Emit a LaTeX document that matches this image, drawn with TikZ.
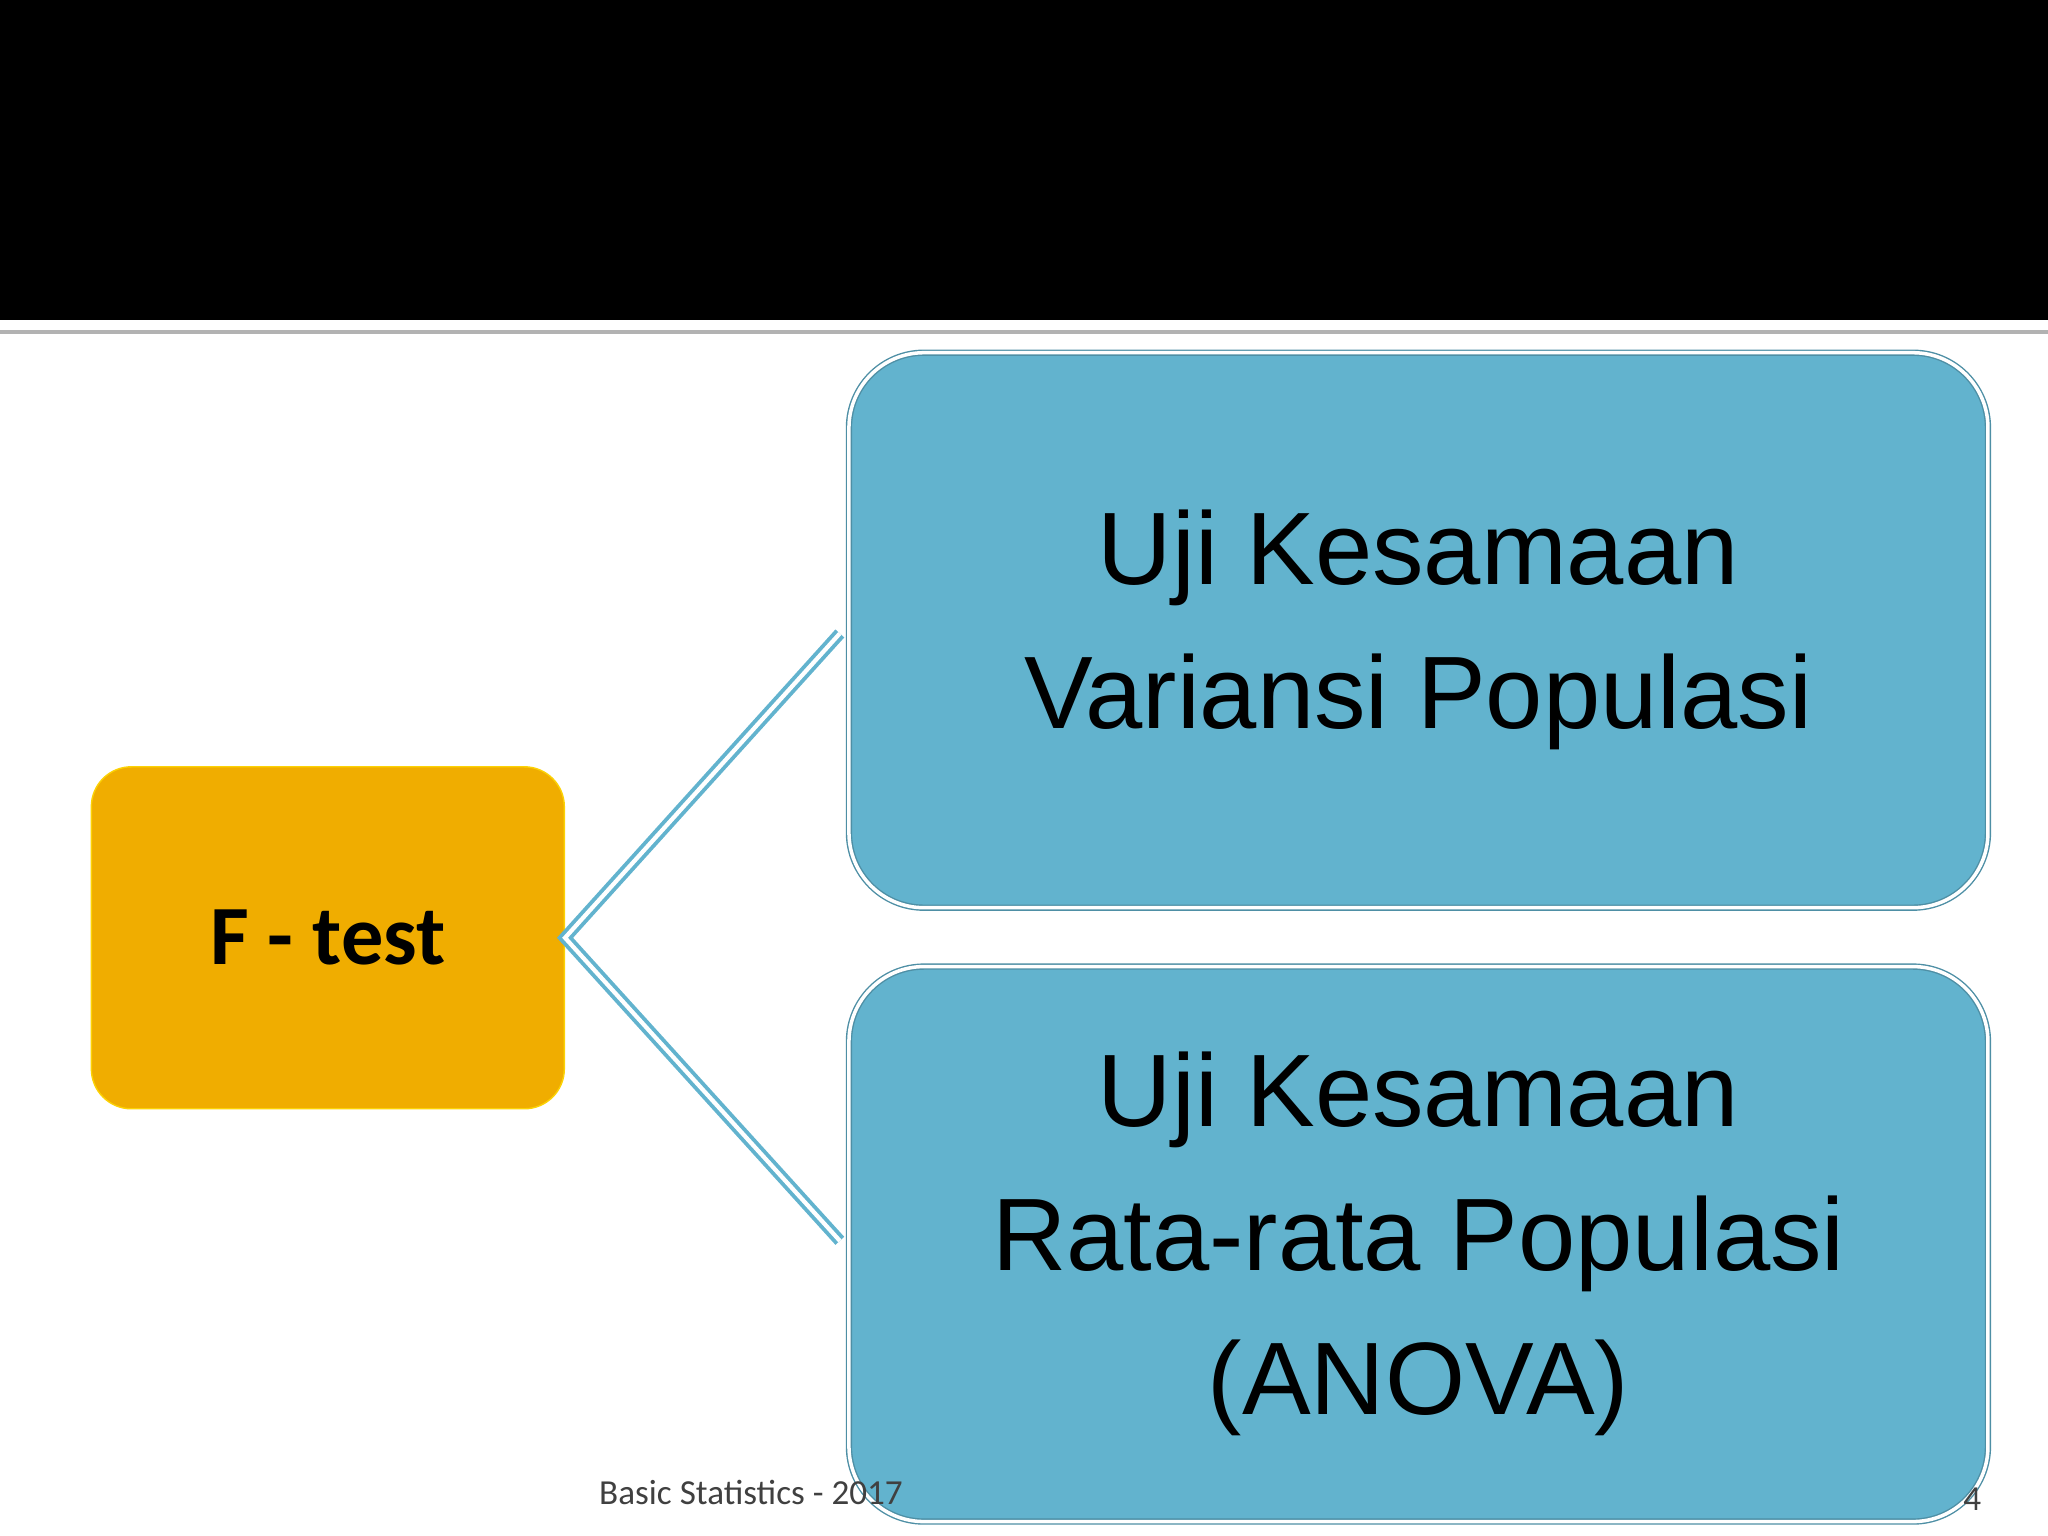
\documentclass[tikz,border=0pt]{standalone}
\usepackage{fontspec}
\setmainfont{Liberation Sans}
\newfontfamily\calfont{Carlito}
\definecolor{boxblue}{HTML}{62B3CE}
\definecolor{boxorange}{HTML}{F0AD00}
\tikzset{
  bigbox/.style={draw=boxblue!80!black, double=white, double distance=1pt, fill=boxblue, rounded corners=0.75cm,
    minimum width=11.39cm, minimum height=5.55cm, align=center, font=\fontsize{29.3}{41}\selectfont},
  rootbox/.style={draw=yellow!70!orange, fill=boxorange, rounded corners=0.4cm,
    minimum width=4.73cm, minimum height=3.42cm, font=\calfont\bfseries\fontsize{24}{28}\selectfont},
  link/.style={draw=boxblue, double=white, double distance=1.2pt, line width=1.1pt}
}
\begin{document}
\begin{tikzpicture}[x=0.01306cm, y=-0.01306cm]
\useasboundingbox (0,0) rectangle (1568,1176);
\fill[black] (0,0) rectangle (1568,245);
\draw[black!30, line width=1.2pt] (0,254) -- (1568,254);
\node[rootbox] (ftest) at (251,718) {F - test};
\node[bigbox] (varians) at (1086,482.5) {Uji Kesamaan\\Variansi Populasi};
\node[bigbox] (anova) at (1086,952.5) {Uji Kesamaan\\Rata-rata Populasi\\(ANOVA)};
\coordinate (vend) at (643,485);
\coordinate (aend) at (643,950);
\draw[link] (vend) -- (ftest.east) -- (aend);
\node[font=\calfont\fontsize{10}{12}\selectfont, text=black!75] (footer) at (575,1143) {Basic Statistics - 2017};
\node[font=\calfont\fontsize{10}{12}\selectfont, text=black!75] (pagenum) at (1510,1148) {4};
\end{tikzpicture}
\end{document}
